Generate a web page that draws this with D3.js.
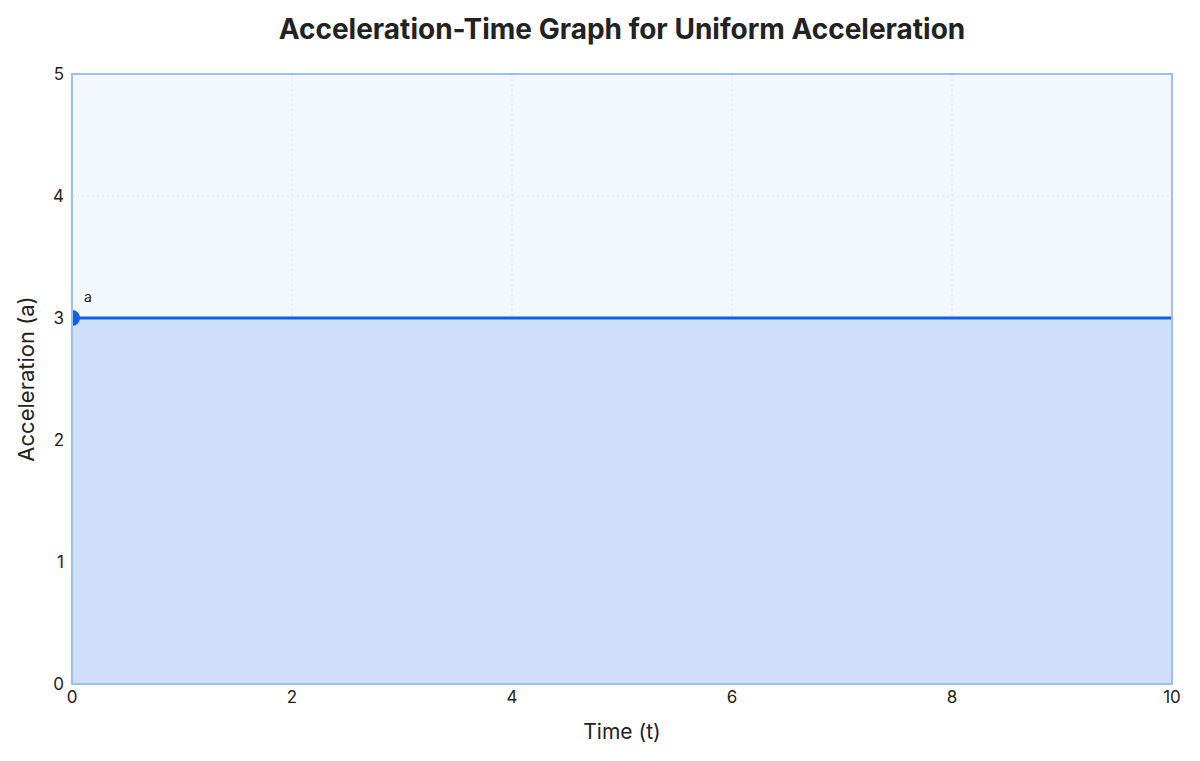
<!DOCTYPE html>
<html>
<head>
<meta charset="utf-8">
<script src="https://cdn.jsdelivr.net/npm/d3@7"></script>
<style>
  body { margin: 0; background: #fff; }
  text { font-family: Inter, "Noto Sans", sans-serif; }
</style>
</head>
<body>
<div id="chart"></div>
<script>
// chart values
const times = [0, 10];
const accel = [3, 3];
const xTicks = [0, 2, 4, 6, 8, 10];
const yTicks = [0, 1, 2, 3, 4, 5];
const seriesLabel = "a";

const W = 1200, H = 761;
const margin = {top: 74, right: 28, bottom: 77, left: 72};
const width = W - margin.left - margin.right,
      height = H - margin.top - margin.bottom;

const svg = d3.select("#chart").append("svg")
    .attr("width", W).attr("height", H);

const g = svg.append("g")
    .attr("transform", `translate(${margin.left},${margin.top})`);

const x = d3.scaleLinear().domain([0, 10]).range([0, width]);
const y = d3.scaleLinear().domain([0, 5]).range([height, 0]);

svg.append("defs").append("clipPath").attr("id", "plot")
  .append("rect").attr("width", width).attr("height", height);

// background
g.append("rect")
    .attr("width", width).attr("height", height)
    .attr("fill", "#f3f7fe");

// grid
g.append("g").selectAll("line.gx")
  .data(xTicks.slice(1, -1)).enter().append("line")
    .attr("x1", d => x(d)).attr("x2", d => x(d))
    .attr("y1", 0).attr("y2", height)
    .attr("stroke", "#dfe6f5").attr("stroke-dasharray", "2,3");
g.append("g").selectAll("line.gy")
  .data(yTicks.slice(1, -1)).enter().append("line")
    .attr("y1", d => y(d)).attr("y2", d => y(d))
    .attr("x1", 0).attr("x2", width)
    .attr("stroke", "#dfe6f5").attr("stroke-dasharray", "2,3");

const pts = times.map((t, i) => ({t, a: accel[i]}));

const plot = g.append("g").attr("clip-path", "url(#plot)");

// area under line
plot.append("path")
    .datum(pts)
    .attr("fill", "#d0dff9")
    .attr("d", d3.area().x(d => x(d.t)).y0(y(0)).y1(d => y(d.a)));

plot.append("path")
    .datum(pts)
    .attr("fill", "none")
    .attr("stroke", "#1560e2")
    .attr("stroke-width", 3)
    .attr("d", d3.line().x(d => x(d.t)).y(d => y(d.a)));

// border
g.append("rect")
    .attr("width", width).attr("height", height)
    .attr("fill", "none").attr("stroke", "#9dbdf5").attr("stroke-width", 2);

plot.append("circle")
    .attr("cx", x(pts[0].t)).attr("cy", y(pts[0].a))
    .attr("r", 8).attr("fill", "#1560e2");

g.append("text")
    .attr("x", x(pts[0].t) + 12).attr("y", y(pts[0].a) - 16)
    .attr("font-size", 14).attr("fill", "#222")
    .text(seriesLabel);

// tick labels
g.append("g").selectAll("text")
  .data(xTicks).enter().append("text")
    .attr("x", d => x(d)).attr("y", height + 19)
    .attr("text-anchor", "middle")
    .attr("font-size", 17).attr("fill", "#222")
    .text(d => d);

g.append("g").selectAll("text")
  .data(yTicks).enter().append("text")
    .attr("x", -8).attr("y", d => y(d) + 6)
    .attr("text-anchor", "end")
    .attr("font-size", 17).attr("fill", "#222")
    .text(d => d);

// axis titles
svg.append("text")
    .attr("x", margin.left + width / 2).attr("y", 739)
    .attr("text-anchor", "middle")
    .attr("font-size", 21).attr("fill", "#222")
    .text("Time (t)");

svg.append("text")
    .attr("transform", `translate(34,${margin.top + height / 2}) rotate(-90)`)
    .attr("text-anchor", "middle")
    .attr("font-size", 22).attr("fill", "#222")
    .text("Acceleration (a)");

svg.append("text")
    .attr("x", margin.left + width / 2).attr("y", 39)
    .attr("text-anchor", "middle")
    .attr("font-size", 28).attr("font-weight", "bold").attr("fill", "#222")
    .text("Acceleration-Time Graph for Uniform Acceleration");
</script>
</body>
</html>
